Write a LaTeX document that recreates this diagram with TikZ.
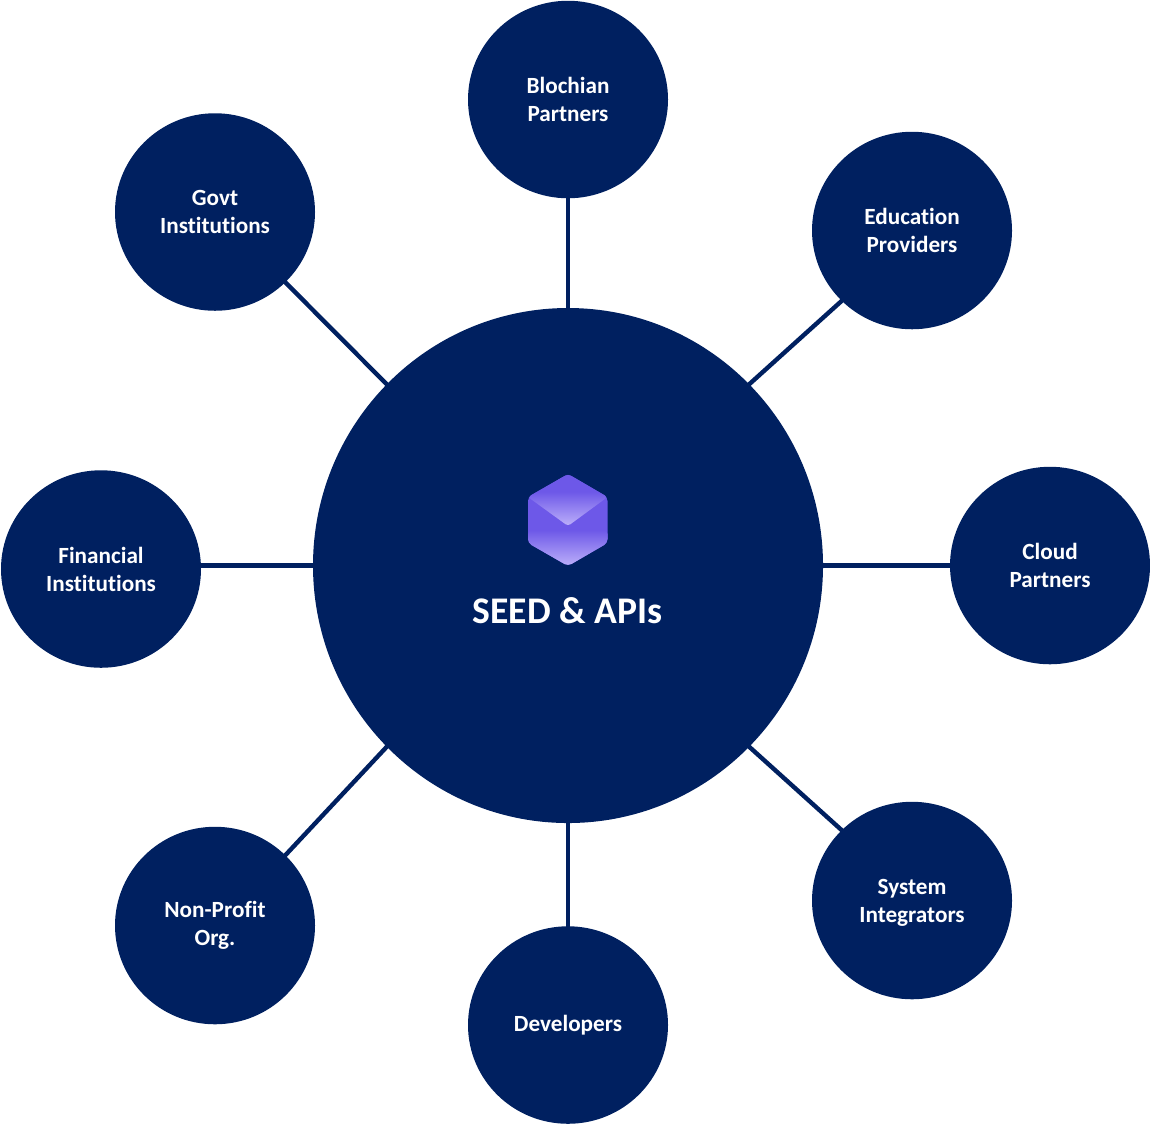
\documentclass[tikz,border=0pt]{standalone}
\usepackage{fontspec}
\setmainfont{Carlito}[Ligatures=CommonOff]
\usepackage{tikz}
\usetikzlibrary{shapes.geometric}
\definecolor{navy}{HTML}{002060}
\definecolor{logobase}{HTML}{6D58E8}
\definecolor{logolight}{HTML}{BDB0FA}
\pgfdeclareverticalshading{logotop}{100bp}{color(0bp)=(logolight); color(25bp)=(logolight); color(58bp)=(logobase); color(100bp)=(logobase)}
\tikzset{
  hub/.style={draw=none, ellipse, fill=navy, text=white, minimum width=5.1cm, minimum height=5.15cm, inner sep=0pt},
  partner/.style={draw=none, ellipse, fill=navy, text=white, minimum width=2cm, minimum height=1.975cm, inner sep=0pt, align=center, font=\bfseries\fontsize{6.6}{8}\selectfont},
  link/.style={draw=navy, line width=1.25pt, shorten >=-0.5pt, shorten <=-0.5pt},
  title/.style={text=white, inner sep=0pt, font=\bfseries\fontsize{10.7}{12}\selectfont}
}

\begin{document}
\begin{tikzpicture}
\useasboundingbox (0,0) rectangle (11.5,-11.25);

\node[xshift=5.68cm,yshift=-5.655cm,hub] (seed) {};
\node[xshift=5.68cm,yshift=-0.995cm,partner] (blochian) {Blochian\\Partners};
\node[xshift=9.12cm,yshift=-2.305cm,partner] (education) {Education\\Providers};
\node[xshift=10.5cm,yshift=-5.655cm,partner] (cloud) {Cloud\\Partners};
\node[xshift=9.12cm,yshift=-9.005cm,partner] (system) {\rule{0pt}{5.5pt}System\\Integrators};
\node[xshift=5.68cm,yshift=-10.25cm,partner] (developers) {Developers};
\node[xshift=2.15cm,yshift=-9.255cm,partner] (nonprofit) {Non-Profit\\Org.};
\node[xshift=1.01cm,yshift=-5.69cm,partner] (financial) {Financial\\Institutions};
\node[xshift=2.15cm,yshift=-2.12cm,partner] (govt) {Govt\\Institutions};

\draw[link] (seed) -- (blochian);
\draw[link] (seed.45) -- (education.225);
\draw[link] (seed) -- (cloud);
\draw[link] (seed.-45) -- (system.135);
\draw[link] (seed) -- (developers);
\draw[link] (seed.225) -- (nonprofit.45);
\draw[link] (seed.west) -- (seed.west -| financial.east);
\draw[link] (seed.135) -- (govt.-45);

% logo
\fill[logobase, rounded corners=0.04cm] (5.68,-4.74) -- (6.075,-4.97) -- (6.075,-5.43) -- (5.68,-5.66) -- (5.28,-5.43) -- (5.28,-4.97) -- cycle;
\shade[rounded corners=0.04cm, top color=logobase, bottom color=logolight] (5.28,-5.3) -- (6.075,-5.3) -- (6.075,-5.43) -- (5.68,-5.66) -- (5.28,-5.43) -- cycle;
\shade[rounded corners=0.03cm, shading=logotop] (5.68,-4.74) -- (6.075,-4.97) -- (5.68,-5.26) -- (5.28,-4.97) -- cycle;

\node[xshift=5.675cm,yshift=-6.11cm,title] (name) {SEED \& APIs};
\end{tikzpicture}
\end{document}
